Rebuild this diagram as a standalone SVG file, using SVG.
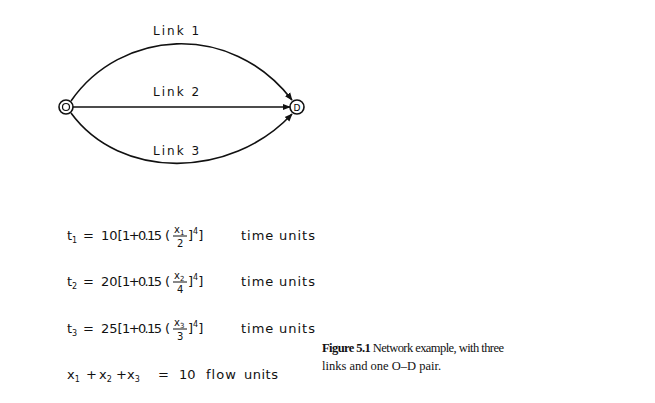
<svg xmlns="http://www.w3.org/2000/svg" width="655" height="403" viewBox="0 0 655 403">
<style>
.l{font-family:"DejaVu Sans",sans-serif;font-size:12px;fill:#111;letter-spacing:2px}
.e{font-family:"DejaVu Sans",sans-serif;font-size:13px;fill:#111}
.f{font-family:"DejaVu Sans",sans-serif;font-size:10px;fill:#111}
.s{font-size:8px}
.c{font-family:"Liberation Serif",serif;font-size:12.5px;fill:#111}
.w{fill:none;stroke:#111;stroke-width:1.6}
</style>
<defs><marker id="a" viewBox="0 0 10 10" refX="9" refY="5" markerWidth="8" markerHeight="8" orient="auto" markerUnits="userSpaceOnUse"><path d="M0,1 L10,5 L0,9 Z" fill="#111"/></marker></defs>
<rect width="655" height="403" fill="#fff"/>
<g id="connectors">
<path class="w" d="M71,101 C120,30 230,20 292,100" marker-end="url(#a)"/>
<path class="w" d="M73,107 L290,107" marker-end="url(#a)"/>
<path class="w" d="M71,113 C120,180 230,180 292,114" marker-end="url(#a)"/>
</g>
<g id="O"><circle cx="66" cy="107" r="7" fill="#fff" stroke="#111" stroke-width="1.6"/><circle cx="66" cy="107" r="3.5" fill="none" stroke="#111" stroke-width="1.2"/></g>
<g id="D"><circle cx="297" cy="107" r="7" fill="#fff" stroke="#111" stroke-width="1.6"/><text x="297" y="111" text-anchor="middle" style="font-family:'DejaVu Sans',sans-serif;font-size:9px">D</text></g>
<g id="labels">
<text class="l" x="153" y="35">Link  1</text>
<text class="l" x="153" y="96">Link 2</text>
<text class="l" x="153" y="155">Link 3</text>
</g>
<g id="equations">
<text class="e" x="67" y="240">t<tspan class="s" dy="3">1</tspan></text>
<text class="e" x="67" y="286">t<tspan class="s" dy="3">2</tspan></text>
<text class="e" x="67" y="333">t<tspan class="s" dy="3">3</tspan></text>
<text class="e" x="83" y="240">=</text><text class="e" x="83" y="286">=</text><text class="e" x="83" y="333">=</text>
<text class="e" x="101" y="240">10[</text><text class="e" x="101" y="286">20[</text><text class="e" x="101" y="333">25[</text>
<text class="e" x="122" y="240" textLength="40">1+0.15</text><text class="e" x="165" y="240">(</text>
<text class="e" x="122" y="286" textLength="40">1+0.15</text><text class="e" x="165" y="286">(</text>
<text class="e" x="122" y="333" textLength="40">1+0.15</text><text class="e" x="165" y="333">(</text>
<text class="f" x="174" y="233">x<tspan font-size="7" dy="2">1</tspan></text><text class="f" x="177" y="247">2</text>
<text class="f" x="174" y="279">x<tspan font-size="7" dy="2">2</tspan></text><text class="f" x="177" y="293">4</text>
<text class="f" x="174" y="326">x<tspan font-size="7" dy="2">3</tspan></text><text class="f" x="177" y="340">3</text>
<path d="M173,236H187M173,282H187M173,329H187" stroke="#111" stroke-width="1"/>
<text class="e" x="188" y="240">]<tspan class="s" dy="-6">4</tspan><tspan dy="6">]</tspan></text>
<text class="e" x="188" y="286">]<tspan class="s" dy="-6">4</tspan><tspan dy="6">]</tspan></text>
<text class="e" x="188" y="333">]<tspan class="s" dy="-6">4</tspan><tspan dy="6">]</tspan></text>
<text class="e" x="241" y="240" letter-spacing="1">time</text><text class="e" x="279" y="240" letter-spacing="1">units</text>
<text class="e" x="241" y="286" letter-spacing="1">time</text><text class="e" x="279" y="286" letter-spacing="1">units</text>
<text class="e" x="241" y="333" letter-spacing="1">time</text><text class="e" x="279" y="333" letter-spacing="1">units</text>
<text class="e" x="67" y="379">x<tspan class="s" dy="3">1</tspan></text>
<text class="e" x="86" y="379">+</text>
<text class="e" x="99" y="379">x<tspan class="s" dy="3">2</tspan></text>
<text class="e" x="116" y="379">+</text>
<text class="e" x="127" y="379">x<tspan class="s" dy="3">3</tspan></text>
<text class="e" x="158" y="379">=</text>
<text class="e" x="179" y="379">10</text>
<text class="e" x="206" y="379" letter-spacing="1">flow</text>
<text class="e" x="244" y="379" letter-spacing="0.5">units</text>
</g>
<g id="caption">
<text class="c" x="322" y="352" textLength="182"><tspan font-weight="bold">Figure 5.1</tspan>  Network example, with three</text>
<text class="c" x="322" y="370">links and one O–D pair.</text>
</g>
</svg>
